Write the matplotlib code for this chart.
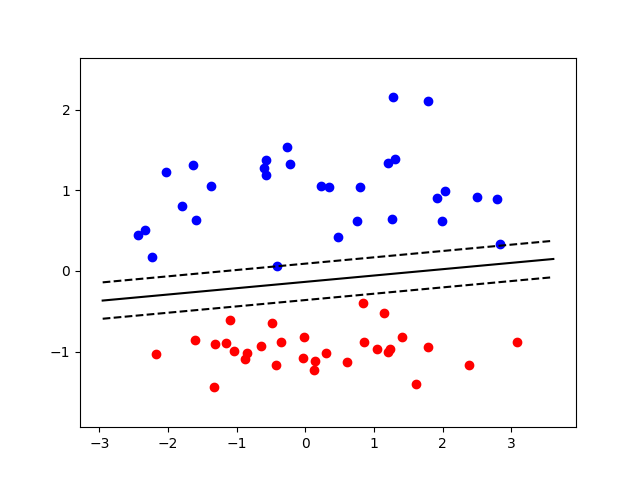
import numpy as np
import matplotlib
matplotlib.use('Agg')
import matplotlib.pyplot as plt

# class 0 (blue) points
blue_x = [-2.437, -2.332, -2.239, -2.022, -1.790, -1.631, -1.597, -1.366, -0.579, -0.602,
          -0.573, -0.265, -0.222, -0.410, 1.274, 1.781, 1.303, 1.202, 0.223, 0.339,
          0.797, 2.033, 1.922, 2.501, 2.795, 0.753, 1.266, 1.990, 0.469, 2.830]
blue_y = [0.448, 0.507, 0.171, 1.224, 0.801, 1.320, 0.635, 1.059, 1.382, 1.279,
          1.196, 1.536, 1.333, 0.062, 2.163, 2.113, 1.395, 1.345, 1.059, 1.037,
          1.046, 0.993, 0.909, 0.918, 0.893, 0.623, 0.648, 0.626, 0.420, 0.340]

# class 1 (red) points
red_x = [-1.091, -0.482, -1.612, -1.312, -1.153, -1.043, -0.854, -0.883, -0.646, -0.352,
         -0.424, -2.172, -1.332, -0.019, -0.029, 0.145, 0.130, 0.300, 0.846, 1.150,
         0.600, 0.854, 1.043, 1.227, 1.208, 1.400, 1.791, 1.613, 2.381, 3.085]
red_y = [-0.606, -0.651, -0.859, -0.905, -0.900, -0.996, -1.021, -1.092, -0.930, -0.888,
         -1.171, -1.025, -1.441, -0.818, -1.080, -1.112, -1.224, -1.017, -0.395, -0.523,
         -1.125, -0.880, -0.968, -0.971, -1.012, -0.822, -0.943, -1.403, -1.162, -0.888]

# separating line y = m*x + b, with margin d
slope = 0.0787
intercept = -0.135
margin = 0.226
x_start, x_end = -2.95, 3.61

xfit = np.linspace(x_start, x_end, 50)
yfit = slope * xfit + intercept

plt.figure(figsize=(6.4, 4.8), dpi=100)
plt.scatter(blue_x, blue_y, color='blue')
plt.scatter(red_x, red_y, color='red')

plt.plot(xfit, yfit, '-k')
plt.plot(xfit, yfit + margin, '--k')
plt.plot(xfit, yfit - margin, '--k')

plt.xlim(-3.28, 3.94)
plt.ylim(-1.94, 2.65)

plt.savefig('out.png')
